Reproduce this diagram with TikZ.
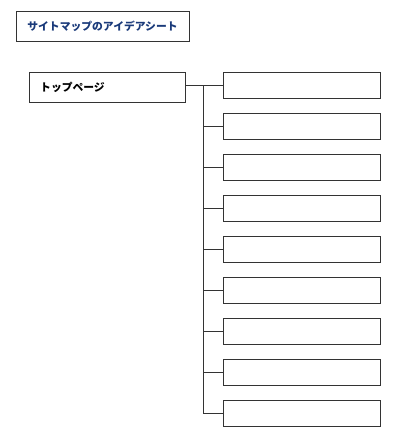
\documentclass[tikz,border=0pt]{standalone}
\usepackage{fontspec}
\newfontfamily\jpfont{Noto Sans CJK JP}
\definecolor{titleblue}{HTML}{1A3A7A}
\definecolor{linegray}{HTML}{333333}
\tikzset{
  box/.style={draw=linegray, line width=0.9pt, fill=white, inner sep=0pt},
  conn/.style={draw=linegray, line width=0.9pt},
  jptext/.style={font=\jpfont\bfseries\fontsize{10.8}{12}\selectfont},
}
\begin{document}
\begin{tikzpicture}[x=1pt,y=-1pt]
\useasboundingbox (0,0) rectangle (400,436);
\node[box, jptext, minimum width=173pt, minimum height=30pt, text=titleblue] (title) at (102.5,26) {サイトマップのアイデアシート};
\node[box, minimum width=156pt, minimum height=30pt, anchor=north west] (top) at (29,72) {};
\node[jptext, anchor=west, inner sep=0pt] (toptext) at (40,87) {トップページ};
\foreach \i in {1,...,9} {
  \node[box, minimum width=157pt, minimum height=26pt, anchor=north west] (c\i) at (223,{72+41*(\i-1)}) {};
}
\coordinate (trunk) at (203,0);
\draw[conn] (top.east |- c1.west) -- (c1.west);
\draw[conn] (trunk |- c1.west) -- (trunk |- c9.west);
\foreach \i in {2,...,9} {
  \draw[conn] (trunk |- c\i.west) -- (c\i.west);
}
\end{tikzpicture}
\end{document}
